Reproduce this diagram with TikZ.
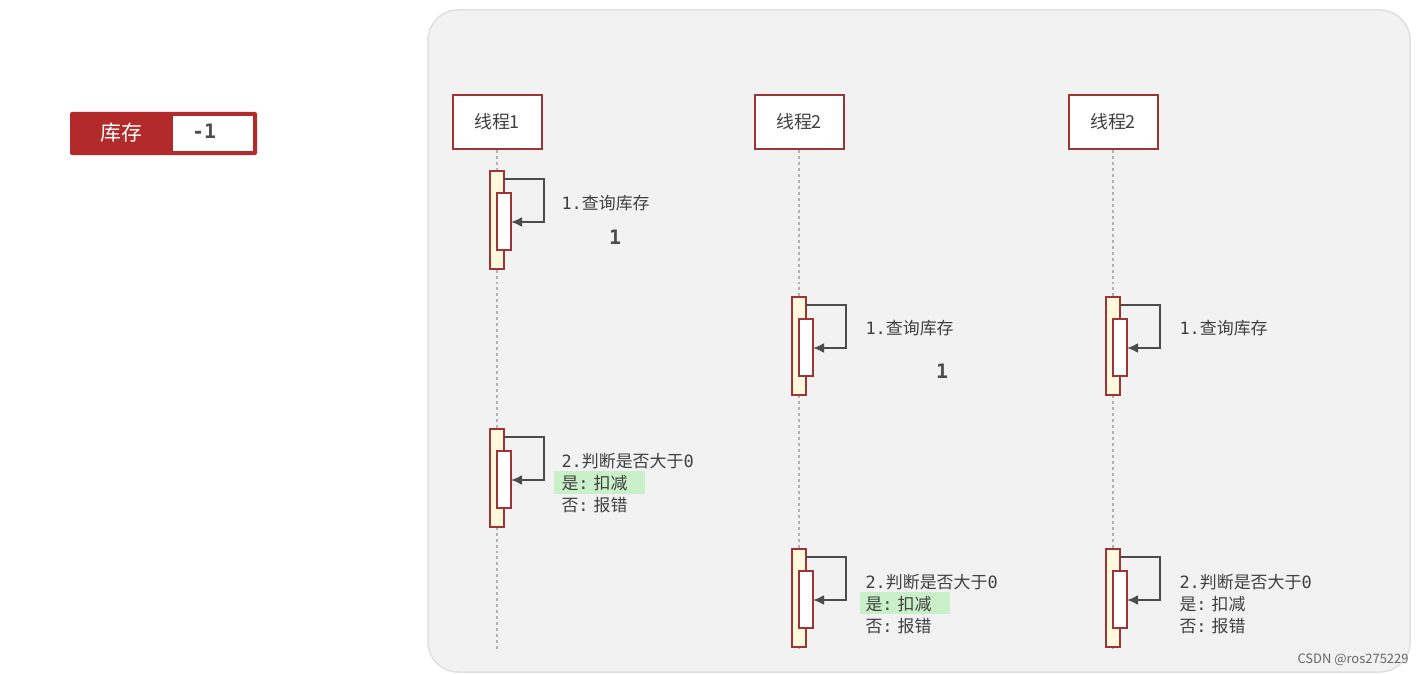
\documentclass[tikz,border=0pt]{standalone}
\usepackage{fontspec}
\setmainfont{Noto Sans CJK SC}
\setmonofont{DejaVu Sans Mono}
\usetikzlibrary{positioning,arrows.meta}
\definecolor{stockred}{HTML}{B22A2A}
\definecolor{headred}{HTML}{9E3434}
\definecolor{actfill}{HTML}{FFF8DC}
\definecolor{panelgray}{HTML}{F2F2F2}
\definecolor{hlgreen}{HTML}{C9F0C9}
\begin{document}
\begin{tikzpicture}[x=1bp, y=-1bp,
		head/.style = {draw=headred, line width=2bp, fill=white, minimum width=89bp, minimum height=54bp, font=\fontsize{18}{20}\selectfont, text=black!75},
		outer/.style = {draw=headred, line width=1.8bp, fill=actfill},
		inner/.style = {draw=headred, line width=1.8bp, fill=white},
		msg/.style = {anchor=west, font=\fontsize{17}{22.5}\selectfont, text=black!75, align=left},
		big/.style = {font=\ttfamily\bfseries\fontsize{20}{22}\selectfont, text=black!70}]
	
	\useasboundingbox (0,0) rectangle (1427,674);
	\fill[white] (0,0) rectangle (1427,674);
	\draw[black!12, line width=1.5bp, fill=panelgray, rounded corners=30bp] (428,10) rectangle (1410,672);
	
	\fill[stockred, rounded corners=2bp] (70,112) rectangle (257,155);
	\fill[white] (173,116) rectangle (253,151);
	\node[text=white, font=\fontsize{21}{22}\selectfont] (stock) at (121,133) {库存};
	\node[big] (val) at (204,131) {-1};
	
	\node[head] (t1) at (497,122) {线程1};
	\node[head] (t2) at (799,122) {线程2};
	\node[head] (t3) at (1113,122) {线程2};
	
	\foreach \t in {t1,t2,t3}
		\draw[black!30, dashed, line width=1.2bp] (\t.south) -- (\t.south |- 0,650);
	
	% activations: x, top
	\foreach \x/\y in {497/171, 497/429, 799/297, 799/549, 1113/297, 1113/549} {
		\draw[outer] (\x-7,\y) rectangle (\x+7,\y+98);
		\draw[inner] (\x,\y+22) rectangle (\x+14,\y+79);
		\draw[black!70, line width=2bp, -{Latex[length=11bp,width=10bp]}] (\x+7,\y+8) -- (\x+47,\y+8) -- (\x+47,\y+51) -- (\x+14,\y+51);
	}
	
	\node[msg] (q1) at (558,203) {{\ttfamily 1.}查询库存};
	\node[msg] (q2) at (862,328) {{\ttfamily 1.}查询库存};
	\node[msg] (q3) at (1176,328) {{\ttfamily 1.}查询库存};
	\node[big] (n1) at (615,237) {1};
	\node[big] (n2) at (942,371) {1};
	
	\fill[hlgreen] (554,471) rectangle (645,494);
	\fill[hlgreen] (860,592) rectangle (950,614);
	\node[msg] (c1) at (558,483) {{\ttfamily 2.}判断是否大于{\ttfamily 0}\\是{\ttfamily :} 扣减\\否{\ttfamily :} 报错};
	\node[msg] (c2) at (862,604) {{\ttfamily 2.}判断是否大于{\ttfamily 0}\\是{\ttfamily :} 扣减\\否{\ttfamily :} 报错};
	\node[msg] (c3) at (1176,604) {{\ttfamily 2.}判断是否大于{\ttfamily 0}\\是{\ttfamily :} 扣减\\否{\ttfamily :} 报错};
	
	\node[anchor=east, font=\fontsize{13}{15}\selectfont, text=black!60] (mark) at (1412,660) {CSDN @ros275229};
	
\end{tikzpicture}
\end{document}
